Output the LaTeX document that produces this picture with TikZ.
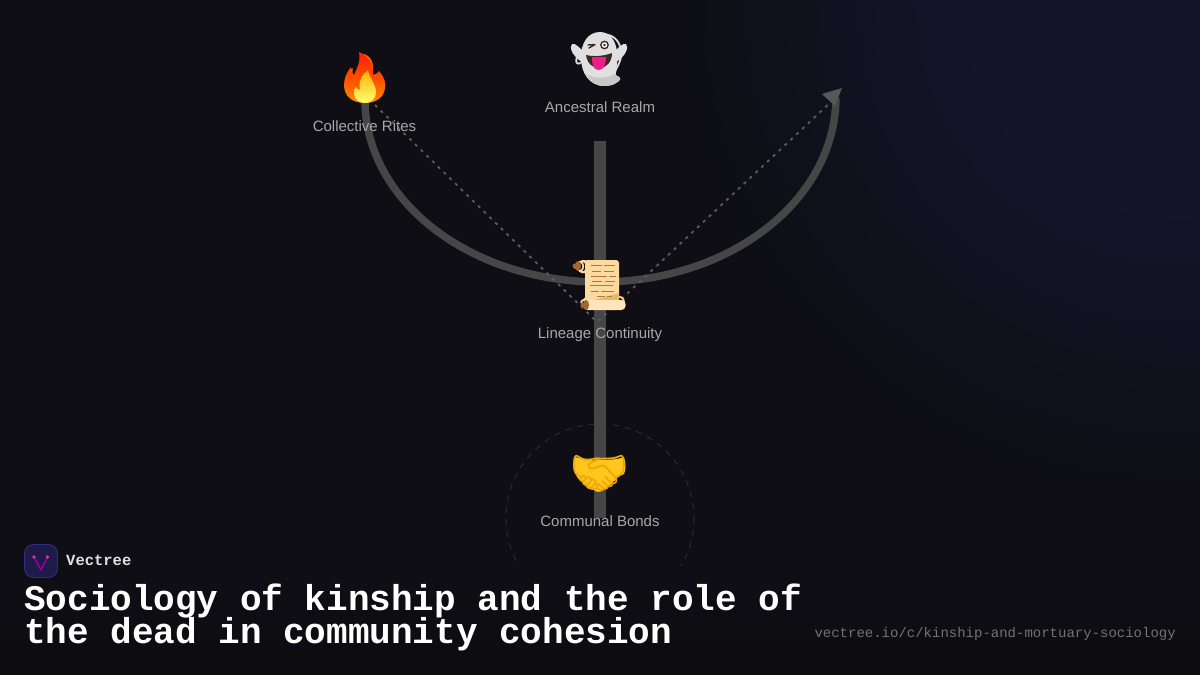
\documentclass[tikz,border=0pt]{standalone}
\usepackage{fontspec}
\setmainfont{Liberation Sans}
\setmonofont{Liberation Mono}
\newfontfamily\emo{Noto Emoji}
\definecolor{bgc}{HTML}{0E0E14}
\definecolor{bgb}{HTML}{14152B}
\definecolor{linec}{HTML}{464646}
\definecolor{paper}{HTML}{FCD9A0}
\definecolor{paperdk}{HTML}{E9B767}
\definecolor{knob}{HTML}{A5662C}
\definecolor{hand}{HTML}{FFC61C}
\definecolor{handdk}{HTML}{EFA50A}
\definecolor{ghostc}{HTML}{E0E0E0}
\definecolor{ghostd}{HTML}{3B2A22}
\definecolor{logof}{HTML}{1E1B4B}
\definecolor{logob}{HTML}{312E81}
\pgfdeclareradialshading{glow}{\pgfpointorigin}{color(0bp)=(bgb); color(10bp)=(bgb); color(25bp)=(bgc); color(50bp)=(bgc)}
\pgfdeclareverticalshading{floorfade}{100bp}{color(0bp)=(black!35!bgc); color(50bp)=(bgc); color(100bp)=(bgc)}
\tikzset{
  x=1pt,y=-1pt,
  lbl/.style={font=\fontsize{15}{18}\selectfont,text=white!66!black,inner sep=0pt,anchor=base},
  emoji/.style={font=\emo\fontsize{50}{50}\selectfont,inner sep=0pt,anchor=center},
  spine/.style={draw=linec,line width=12pt},
  arc/.style={draw=linec,line width=7.5pt},
  dots/.style={draw=white!36!black,line width=1.8pt,dash pattern=on 3pt off 5pt},
}
\begin{document}
\begin{tikzpicture}
\useasboundingbox (0,0) rectangle (1200,675);
\fill[bgc] (0,0) rectangle (1200,675);
\begin{scope}
\clip (0,0) rectangle (1200,675);
\shade[shading=glow] (1180,0) circle (500);
\end{scope}
\shade[shading=floorfade] (0,480) rectangle (1200,675);

\coordinate (spineTop) at (600,141);
\coordinate (spineEnd) at (600,518);
\coordinate (arcStart) at (365,100);
\coordinate (arcEnd) at (836,98);
\coordinate (arcMid) at (600,282);
\coordinate (dotA) at (375,105);
\coordinate (dotB) at (833,100);
\coordinate (dotMid) at (597,322);
\coordinate (tip) at (842,88);

\begin{scope}
\clip (490,410) rectangle (710,565);
\draw[white!11!bgc,line width=1pt,dash pattern=on 6pt off 6pt] (spineEnd) circle (94);
\end{scope}

\draw[spine] (spineTop) -- (spineEnd);
\draw[arc] (arcStart) .. controls (365,200.5) and (470,282) .. (arcMid)
  .. controls (730,282) and (835,200.5) .. (arcEnd);
\draw[dots] (dotA) -- (dotMid) -- (dotB);
\fill[white!34!black] (tip) -- (822,94) -- (835,106) -- cycle;

% flame
\node[emoji,font=\emo\fontsize{46}{46}\selectfont,text=orange!85!red] (fireGlyph) at (364.5,78) {🔥};
\shade[top color=red!75!orange,bottom color=orange!90!yellow,middle color=orange!60!red]
 (359,52) .. controls (366,55) and (374,61) .. (373,75) .. controls (376,75) and (378,72) .. (379,71)
 .. controls (385,78) and (386,84) .. (385,88) .. controls (384,98) and (375,103) .. (365,103)
 .. controls (352,103) and (344,96) .. (344,85) .. controls (344,78) and (347,72) .. (351,67)
 .. controls (351,71) and (352,74) .. (354,75) .. controls (357,68) and (361,62) .. (359,52) -- cycle;
\shade[top color=orange!60!yellow,bottom color=yellow!55!white]
 (368,70) .. controls (369,78) and (376,84) .. (376,92) .. controls (376,99) and (371,103) .. (365,103)
 .. controls (359,103) and (354,99) .. (354,93) .. controls (354,90) and (355,88) .. (356,87)
 .. controls (357,89) and (358,90) .. (360,90) .. controls (358,82) and (362,74) .. (368,70) -- cycle;
\node[lbl] (rites) at (364.5,131) {Collective Rites};

% ghost
\node[emoji,text=ghostc] (ghostGlyph) at (599,59) {👻};
\fill[ghostc] (572,44) .. controls (569,47) and (572,56) .. (582,62) -- (585,52) .. controls (581,50) and (575,42) .. (572,44) -- cycle;
\fill[ghostc] (626,44) .. controls (629,47) and (626,56) .. (616,62) -- (613,52) .. controls (617,50) and (623,42) .. (626,44) -- cycle;
\fill[ghostc] (600,32) .. controls (588,32) and (581,43) .. (581,57)
  .. controls (581,74) and (590,86) .. (604,86) .. controls (612,86) and (619,83) .. (620,78)
  .. controls (620,76) and (617,77) .. (615,75) .. controls (617,66) and (618,60) .. (617,52)
  .. controls (616,41) and (610,32) .. (600,32) -- cycle;
\fill[white!78!black] (586,74) .. controls (596,80) and (608,78) .. (615,74) .. controls (617,77) and (620,76) .. (620,78)
  .. controls (619,83) and (612,86) .. (604,86) .. controls (596,86) and (590,81) .. (586,74) -- cycle;
\fill[ghostd] (586,55) .. controls (594,57) and (604,56) .. (612,53) .. controls (612,62) and (606,68) .. (600,68)
  .. controls (593,69) and (587,63) .. (586,55) -- cycle;
\fill[magenta!85!red!90!white] (592,57) -- (606,57) .. controls (606,64) and (604,70) .. (598.5,70) .. controls (593,70) and (592,64) .. (592,57) -- cycle;
\draw[ghostd,line width=1.4pt,line cap=round,line join=round] (588,45) -- (595,44.5) -- (589,48);
\fill[ghostd] (604.5,45) circle (4.4);
\fill[white] (604.5,45) circle (2.8);
\fill[ghostd] (604.5,45) circle (1.4);
\node[lbl] (realm) at (600,112) {Ancestral Realm};

% scroll
\node[emoji,font=\emo\fontsize{48}{48}\selectfont,text=paper] (scrollGlyph) at (600,285) {📜};
\fill[paper,rounded corners=3pt] (585,260) -- (619,260) -- (619,302) -- (585,302) -- cycle;
\fill[paperdk] (594,300) -- (619,293) -- (619,302) -- (594,302) -- cycle;
\fill[knob] (578,266) ellipse (3 and 5);
\fill[knob] (575,266) circle (2.5);
\fill[paper!70!white,rounded corners=4pt] (584,300) rectangle (625.5,310);
\fill[knob] (586,305) ellipse (3 and 5);
\fill[knob] (583,305) circle (2.5);
\foreach \a/\b/\y in {591/602/265,604/615/265,592/601/271,604/614/271,591/607/276,609/616/276,592/602/281,605/615/281,590/613/285,591/599/291,601/614/291,597/605/296,607/612/296}{
  \draw[knob!85!paper,line width=0.9pt] (\a,\y) -- (\b,\y);
}
\node[lbl] (lineage) at (600,338) {Lineage Continuity};

% handshake
\fill[hand] (575,457) .. controls (585,460) and (595,461) .. (600,460) .. controls (610,460) and (620,459) .. (624,457)
 .. controls (626,463) and (626,470) .. (624,474) -- (617,477) .. controls (617,481) and (612,481) .. (611,484)
 .. controls (608,488) and (605,487) .. (603,490) .. controls (600,493) and (596,492) .. (594,490)
 .. controls (589,490) and (586,487) .. (583,483) .. controls (578,480) and (574,473) .. (574,468) .. controls (574,464) and (574,460) .. (575,457) -- cycle;
\node[emoji,text=handdk,font=\emo\fontsize{47}{47}\selectfont] (handGlyph) at (599.5,473) {🤝};
\node[lbl] (bonds) at (600,526) {Communal Bonds};

% logo
\draw[draw=logob,fill=logof,line width=0.8pt,rounded corners=9pt] (24.5,544.5) rectangle (57.5,577.5);
\coordinate (lv) at (41,570);
\coordinate (lvl) at (34,557);
\coordinate (lvr) at (47.5,557);
\draw[violet!80!magenta,line width=1.5pt,line cap=round,line join=round] (lvl) -- (lv) -- (lvr);
\fill[magenta!60!violet!90!white] (lvl) circle (1.8) (lvr) circle (1.8);
\node[anchor=base west,inner sep=0pt,text=white!88!black,font=\ttfamily\bfseries\fontsize{15.5}{18}\selectfont] (brand) at (66,565) {Vectree};
\node[anchor=base west,inner sep=0pt,text=white,font=\ttfamily\bfseries\fontsize{36}{33}\selectfont] (title1) at (24,610) {Sociology of kinship and the role of};
\node[anchor=base west,inner sep=0pt,text=white,font=\ttfamily\bfseries\fontsize{36}{33}\selectfont] (title2) at (24,643) {the dead in community cohesion};
\node[anchor=base east,inner sep=0pt,text=white!45!black,font=\ttfamily\fontsize{14}{16}\selectfont] (url) at (1176,637) {vectree.io/c/kinship-and-mortuary-sociology};
\end{tikzpicture}
\end{document}
